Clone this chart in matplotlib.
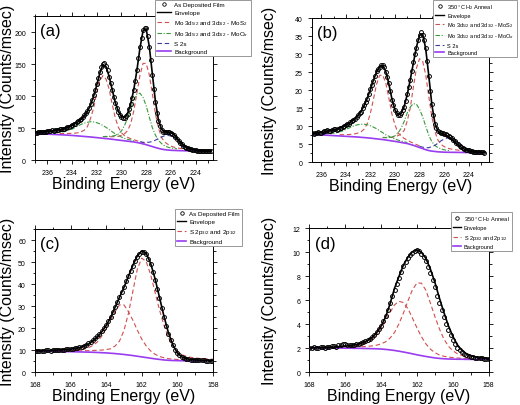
import numpy as np
import matplotlib
matplotlib.use("Agg")
import matplotlib.pyplot as plt
from matplotlib.lines import Line2D
from matplotlib.ticker import MultipleLocator

plt.rcParams['font.family'] = ['Liberation Sans', 'DejaVu Sans']
plt.rcParams['mathtext.fontset'] = 'custom'
plt.rcParams['mathtext.rm'] = 'Liberation Sans'

# ---------------- Mo 3d region, as deposited (a) ----------------
# measured points 237 -> 222.75 eV (0.25 eV step) plus the in-between scans
data_a = [42, 43, 43, 44, 45, 46, 46, 47, 48, 48, 50, 52, 55, 57, 61, 64, 70, 77, 87, 101,
          118, 137, 150, 147, 130, 109, 89, 75, 67, 66, 72, 87, 109, 141, 176, 203, 206, 177, 133, 90,
          61, 47, 43, 43, 42, 39, 33, 27, 22, 19, 17, 16, 15, 14.5, 14, 13.8, 13.5, 13.5]
data_a_mid = [42.5, 43, 43.5, 44.5, 45.5, 46.5, 46.5, 47.5, 48, 49, 51, 53.5, 56, 59, 62.5, 67,
              73, 81.5, 93.5, 109, 128, 145, 151, 140, 120, 99, 81.5, 70.5, 66, 68.5, 79, 97.5,
              124, 159, 191, 207, 194, 156, 111, 74, 53, 44.5, 43.5, 43, 41, 36, 30, 24.5, 20.5,
              18, 16.5, 15.5, 14.8, 14.2, 13.9, 13.6, 13.5]
env_a = [43, 43, 44, 44, 45, 45, 46, 47, 47, 48, 50, 52, 54, 57, 60, 64, 69, 76, 86, 100,
         117, 136, 149, 146, 131, 110, 90, 76, 68, 67, 73, 88, 110, 140, 175, 202, 205, 178, 135, 92,
         62, 48, 44, 44, 43, 40, 34, 28, 23, 20, 18, 16.5, 15.5, 15, 14.5, 14, 14, 13.9]
bg_a = [41, 41, 40.8, 40.6, 40.4, 40.2, 40, 39.8, 39.5, 39.3, 39, 38.7, 38.4, 38, 37.6, 37.2,
        36.8, 36.4, 36, 35.5, 35, 34.5, 34, 33.5, 33, 32.4, 31.8, 31.2, 30.6, 30, 29.4, 28.8,
        28.2, 27.4, 26.4, 25.2, 24, 22.5, 21, 19.5, 18.2, 17, 16.2, 15.6, 15.2, 15, 14.8, 14.6,
        14.5, 14.4, 14.3, 14.2, 14.1, 14, 14, 13.9, 13.9, 13.9]
mos2_a1 = [41.5, 41.4, 41.4, 41.5, 41.8, 42.0, 42.6, 44.2, 46.8, 52.4, 65.0, 81.5, 105.0, 123.5,
           132.0, 126.5, 111.0, 87.4, 65.8, 51.2, 42.6, 38.0, 35.4, 33.3, 31.7, 30.1, 28.7, 27.2, 25.8]
mos2_a2 = [36.6, 36.5, 36.3, 36.4, 36.7, 37.0, 38.6, 41.0, 46.0, 56.8, 76.8, 104.4, 132.4, 151.0,
           151.0, 133.5, 104.0, 72.0, 50.2, 35.0, 28.2, 24.6, 21.9, 20.1, 19.0, 18.2, 17.5, 17.0,
           16.6, 16.3, 16.0]
moo_a1 = [42.3, 42.6, 42.9, 43.9, 45.0, 46.7, 48.2, 51.0, 53.2, 55.9, 57.7, 59.0, 59.8, 59.5,
          58.3, 56.5, 54.0, 51.0, 47.6, 44.2, 40.8, 38.4, 35.9, 33.8, 32.3, 31.2, 30.2]
moo_a2 = [36.7, 36.8, 37.0, 37.4, 38.4, 40.6, 45.4, 54.0, 65.4, 80.3, 93.7, 103.1, 104.4, 97.7,
          85.0, 67.5, 50.6, 39.0, 30.7, 25.6, 22.2, 20.1, 18.9, 18.1, 17.5]
s2s_a = [28.4, 27.7, 27.7, 27.8, 29.0, 31.0, 33.6, 36.0, 38.0, 38.6, 37.5, 35.2, 32.1, 27.6,
         23.5, 21.1, 18.7, 17.0, 16.3]

# ---------------- Mo 3d region, 350 C H2 anneal (b) ----------------
data_b = [7.8, 8.1, 8.0, 8.3, 8.2, 8.6, 8.9, 8.8, 9.1, 9.0, 9.6, 9.8, 10.4, 10.7, 11.5, 12.0,
          13.2, 14.0, 16.0, 17.6, 20.4, 22.6, 25.2, 26.4, 27.0, 25.0, 22.0, 17.4, 14.6, 13.0,
          13.8, 15.3, 19.0, 22.8, 27.8, 31.8, 35.4, 35.4, 31.7, 23.8, 16.2, 10.6, 8.7, 8.1,
          7.9, 7.5, 6.9, 6.2, 5.4, 4.6, 4.0, 3.5, 3.3, 3.0, 2.9, 2.8, 2.8, 2.7]
data_b_mid = [8.0, 7.9, 8.2, 8.1, 8.5, 8.7, 8.7, 9.0, 9.2, 9.3, 9.6, 10.1, 10.5, 11.1, 11.8, 12.5,
              13.6, 15.0, 16.8, 19.0, 21.5, 24.0, 26.0, 27.0, 26.3, 23.6, 19.8, 15.8, 13.6, 13.2,
              14.4, 17.0, 20.8, 25.3, 30.0, 33.8, 36.0, 34.0, 28.0, 19.8, 13.0, 9.4, 8.3, 8.0,
              7.8, 7.2, 6.6, 5.8, 5.0, 4.3, 3.7, 3.4, 3.1, 2.95, 2.85, 2.8, 2.75]
env_b = [8.0, 8.0, 8.1, 8.2, 8.3, 8.4, 8.6, 8.8, 9.0, 9.2, 9.5, 9.9, 10.3, 10.8, 11.4, 12.1,
         13.0, 14.2, 15.8, 17.8, 20.2, 22.8, 25.0, 26.5, 26.8, 25.2, 21.8, 17.6, 14.5, 13.2,
         13.6, 15.5, 18.8, 23.0, 27.6, 32.0, 35.2, 35.6, 31.5, 24.0, 16.0, 10.8, 8.6, 8.0,
         7.7, 7.3, 6.7, 6.0, 5.2, 4.5, 3.9, 3.5, 3.2, 3.0, 2.9, 2.85, 2.8, 2.75]
bg_b = [7.8, 7.75, 7.7, 7.65, 7.6, 7.55, 7.5, 7.45, 7.4, 7.35, 7.3, 7.25, 7.2, 7.15, 7.1, 7.05,
        7.0, 6.92, 6.85, 6.78, 6.7, 6.6, 6.5, 6.4, 6.3, 6.18, 6.05, 5.92, 5.8, 5.65, 5.5, 5.35,
        5.2, 4.95, 4.7, 4.4, 4.1, 3.8, 3.5, 3.25, 3.1, 3.0, 2.9, 2.85, 2.8, 2.78, 2.77, 2.76,
        2.75, 2.74, 2.72, 2.71, 2.7, 2.69, 2.68, 2.67, 2.66, 2.65]
mos2_b1 = [7.66, 7.65, 7.65, 7.7, 7.78, 7.9, 8.13, 8.47, 9.22, 10.78, 13.6, 17.5, 21.6, 24.1,
           24.2, 22.0, 17.85, 13.4, 10.35, 8.2, 7.23, 6.62, 6.15, 5.68, 5.3, 4.91, 4.54]
mos2_b2 = [6.9, 6.88, 6.88, 6.92, 7.1, 7.4, 7.9, 8.85, 11.45, 15.2, 20.95, 26.15, 28.7, 28.05,
           24.25, 18.25, 12.6, 8.5, 6.15, 4.95, 4.35, 3.91, 3.72, 3.56, 3.43, 3.32, 3.22, 3.16, 3.1]
moo_b1 = [7.88, 7.89, 7.91, 7.95, 8.07, 8.2, 8.48, 8.69, 9.12, 9.48, 9.91, 10.2, 10.44, 10.55,
          10.55, 10.41, 10.14, 9.75, 9.31, 8.73, 8.22, 7.62, 7.23, 6.77, 6.47, 6.15, 5.91, 5.69, 5.48]
moo_b2 = [6.82, 6.82, 6.85, 7.02, 7.33, 8.13, 9.4, 11.35, 13.7, 15.35, 16.26, 16.08, 14.7, 12.65,
          10.0, 7.5, 5.7, 4.65, 4.08, 3.7, 3.46, 3.31, 3.22]
s2s_b = [4.4, 4.2, 4.02, 4.05, 4.34, 4.72, 5.3, 5.97, 6.44, 6.74, 6.77, 6.48, 5.95, 5.26, 4.56,
         4.03, 3.54, 3.25, 3.1]

# ---------------- S 2p region (c, d), 168 -> 158 eV ----------------
data_c = [9.6, 9.8, 9.7, 10.0, 9.9, 10.2, 10.1, 10.4, 10.6, 11.0, 11.4, 12.1, 13.2, 14.6, 16.5,
          18.8, 21.6, 25.3, 29.8, 34.3, 38.8, 43.6, 48.4, 52.4, 54.6, 53.6, 49.0, 42.0, 33.5,
          25.0, 17.6, 12.3, 8.7, 7.0, 6.2, 5.8, 5.6, 5.4, 5.4, 5.3, 5.2]
data_c_mid = [9.7, 9.6, 9.9, 9.8, 10.1, 10.0, 10.3, 10.5, 10.8, 11.2, 11.7, 12.6, 13.9, 15.5,
              17.6, 20.1, 23.4, 27.5, 32.0, 36.6, 41.2, 46.0, 50.6, 53.8, 54.6, 51.6, 45.6, 37.8,
              29.2, 21.2, 14.7, 10.3, 7.7, 6.5, 6.0, 5.7, 5.5, 5.4, 5.3, 5.3]
env_c = [9.7, 9.7, 9.8, 9.9, 10.0, 10.1, 10.2, 10.3, 10.5, 10.8, 11.2, 11.8, 12.8, 14.2, 16.0,
         18.3, 21.2, 24.8, 29.5, 34.0, 38.5, 43.5, 48.5, 52.8, 55.0, 54.0, 49.5, 42.5, 34.0,
         25.5, 18.0, 12.5, 8.8, 7.0, 6.2, 5.8, 5.6, 5.5, 5.4, 5.35, 5.3]
bg_c = [9.5, 9.5, 9.5, 9.5, 9.5, 9.45, 9.4, 9.4, 9.35, 9.3, 9.25, 9.2, 9.15, 9.1, 9.0, 8.9, 8.8,
        8.65, 8.5, 8.3, 8.1, 7.85, 7.6, 7.3, 7.0, 6.7, 6.4, 6.1, 5.85, 5.6, 5.45, 5.35, 5.3,
        5.25, 5.25, 5.2, 5.2, 5.2, 5.2, 5.2, 5.2]
s2p3_c = [9.75, 9.75, 9.79, 9.8, 9.83, 9.91, 10.0, 10.07, 10.33, 10.65, 11.9, 14.15, 18.9, 26.55,
          36.6, 46.7, 51.8, 50.3, 44.4, 36.3, 28.35, 21.35, 15.8, 12.0, 9.7, 8.05, 7.25, 6.8,
          6.55, 6.3, 6.2, 6.05, 5.96]
s2p1_c = [9.85, 9.85, 9.84, 9.9, 9.95, 10.03, 10.17, 10.48, 11.1, 12.2, 13.7, 16.4, 19.8, 23.75,
          27.5, 30.6, 30.6, 27.55, 23.7, 19.2, 15.1, 12.0, 9.7, 8.2, 7.2, 6.6, 6.2, 5.97, 5.83,
          5.71, 5.65, 5.55, 5.51]

data_d = [2.0, 2.1, 2.05, 2.15, 2.1, 2.2, 2.15, 2.3, 2.35, 2.25, 2.3, 2.4, 2.5, 2.7, 2.95, 3.35,
          3.9, 4.7, 5.8, 6.9, 7.9, 8.9, 9.5, 9.95, 10.2, 9.9, 9.3, 8.3, 7.1, 5.8, 4.6, 3.5, 2.7,
          2.05, 1.7, 1.45, 1.3, 1.22, 1.18, 1.15, 1.1]
data_d_mid = [2.05, 2.0, 2.1, 2.05, 2.15, 2.2, 2.25, 2.4, 2.3, 2.25, 2.35, 2.45, 2.6, 2.8, 3.1,
              3.6, 4.3, 5.2, 6.4, 7.4, 8.4, 9.2, 9.8, 10.15, 10.1, 9.6, 8.8, 7.7, 6.4, 5.2, 4.0,
              3.1, 2.35, 1.85, 1.55, 1.38, 1.26, 1.2, 1.16, 1.12]
env_d = [2.05, 2.05, 2.06, 2.07, 2.08, 2.1, 2.12, 2.15, 2.18, 2.22, 2.28, 2.36, 2.48, 2.65, 2.9,
         3.3, 3.85, 4.6, 5.7, 7.0, 8.0, 8.95, 9.6, 10.05, 10.2, 10.0, 9.5, 8.6, 7.5, 6.2, 5.0,
         3.9, 3.0, 2.3, 1.85, 1.55, 1.38, 1.28, 1.22, 1.18, 1.15]
bg_d = [2.02, 2.02, 2.02, 2.02, 2.02, 2.02, 2.02, 2.02, 2.01, 2.01, 2.0, 2.0, 1.99, 1.98, 1.97,
        1.96, 1.94, 1.91, 1.87, 1.82, 1.76, 1.69, 1.62, 1.54, 1.46, 1.39, 1.32, 1.26, 1.2, 1.16,
        1.13, 1.11, 1.1, 1.09, 1.09, 1.08, 1.08, 1.08, 1.08, 1.08, 1.08]
s2p3_d = [2.12, 2.13, 2.14, 2.17, 2.2, 2.26, 2.37, 2.54, 2.85, 3.32, 4.05, 4.95, 5.95, 6.88, 7.44,
          7.43, 6.84, 5.77, 4.65, 3.63, 2.78, 2.18, 1.8, 1.55, 1.41, 1.32, 1.28, 1.24, 1.22, 1.2, 1.19]
s2p1_d = [2.09, 2.1, 2.1, 2.12, 2.12, 2.14, 2.17, 2.22, 2.31, 2.46, 2.71, 3.09, 3.64, 4.28, 4.98,
          5.62, 5.92, 5.81, 5.3, 4.52, 3.71, 2.97, 2.37, 1.93, 1.64, 1.45, 1.34, 1.27, 1.23, 1.19,
          1.18, 1.16, 1.15]

RED = "#cf5050"
GREEN = "#3a9a3a"
BLUE = "#3a3aa0"
PURPLE = "#9a3cf0"
STYLE = {
    "mos2": dict(color=RED, ls=(0, (4, 2.5)), lw=0.8),
    "moo": dict(color=GREEN, ls=(0, (4, 1.5, 1, 1.5)), lw=0.8),
    "s2s": dict(color=BLUE, ls=(0, (4, 2.5)), lw=0.8),
    "s2p": dict(color=RED, ls=(0, (4, 2.5)), lw=0.8),
}
MARK = dict(ls='none', marker='o', ms=2.8, mfc='none', mec='black', mew=0.7)


def grid(start, stop, vals):
    return np.linspace(start, stop, len(vals))


def panel(ax, x0, x1, data, data_mid, env, bg, comps, xlim, ylim, ymaj, ymin, tag):
    be = grid(x0, x1, data)
    for (s, e, vals, key) in comps:
        ax.plot(grid(s, e, vals), vals, **STYLE[key], zorder=2)
    ax.plot(be, bg, color=PURPLE, lw=1.2, zorder=3)
    ax.plot(be, data, **MARK, zorder=4)
    ax.plot(grid(x0 - 0.125, x1 + 0.125, data_mid), data_mid, **MARK, zorder=4)
    ax.plot(be, env, color='black', lw=1.2, zorder=5)
    ax.set_xlim(*xlim)
    ax.set_ylim(*ylim)
    ax.xaxis.set_major_locator(MultipleLocator(2))
    ax.xaxis.set_minor_locator(MultipleLocator(1))
    ax.yaxis.set_major_locator(MultipleLocator(ymaj))
    ax.yaxis.set_minor_locator(MultipleLocator(ymin))
    ax.tick_params(which='both', labelsize=5, width=0.6, direction='out')
    ax.tick_params(which='major', length=3)
    ax.tick_params(which='minor', length=1.8)
    ax.tick_params(axis='both', which='both', top=True, right=True)
    for sp in ax.spines.values():
        sp.set_linewidth(0.7)
    ax.set_xlabel('Binding Energy (eV)', fontsize=11.5, labelpad=0)
    ax.set_ylabel('Intensity (Counts/msec)', fontsize=11.5)
    ax.text(0.03, 0.95, tag, transform=ax.transAxes, fontsize=12, va='top', ha='left')


def handles(first, comp_labels):
    h = [Line2D([], [], ls='none', marker='o', ms=2.5, mfc='none', mec='black', mew=0.6),
         Line2D([], [], color='black', lw=1.0)]
    labels = [first, 'Envelope']
    for key, lab in comp_labels:
        h.append(Line2D([], [], **STYLE[key]))
        labels.append(lab)
    h.append(Line2D([], [], color=PURPLE, lw=1.2))
    labels.append('Background')
    return h, labels


fig = plt.figure(figsize=(5.2, 4.06), dpi=100)
ax_a = fig.add_axes([0.0673, 0.6034, 0.342, 0.3547])
ax_b = fig.add_axes([0.600, 0.5978, 0.3404, 0.3554])
ax_c = fig.add_axes([0.0673, 0.0805, 0.342, 0.353])
ax_d = fig.add_axes([0.5948, 0.0805, 0.345, 0.3547])

panel(ax_a, 237, 222.75, data_a, data_a_mid, env_a, bg_a,
      [(235.0, 228.0, mos2_a1, "mos2"), (231.5, 224.0, mos2_a2, "mos2"),
       (235.5, 229.0, moo_a1, "moo"), (231.5, 225.5, moo_a2, "moo"),
       (228.5, 224.0, s2s_a, "s2s")],
      (237, 222.6), (0, 225), 50, 25, '(a)')
panel(ax_b, 237, 222.75, data_b, data_b_mid, env_b, bg_b,
      [(234.5, 228.0, mos2_b1, "mos2"), (231.0, 224.0, mos2_b2, "mos2"),
       (236.0, 229.0, moo_b1, "moo"), (231.0, 225.5, moo_b2, "moo"),
       (228.0, 223.5, s2s_b, "s2s")],
      (236.75, 222.35), (0, 40), 5, 2.5, '(b)')
panel(ax_c, 168, 158, data_c, data_c_mid, env_c, bg_c,
      [(166.0, 158.0, s2p3_c, "s2p"), (167.0, 159.0, s2p1_c, "s2p")],
      (168, 158), (0, 65), 10, 5, '(c)')
panel(ax_d, 168, 158, data_d, data_d_mid, env_d, bg_d,
      [(165.5, 158.0, s2p3_d, "s2p"), (167.0, 159.0, s2p1_d, "s2p")],
      (168, 158), (0, 12), 2, 1, '(d)')

ax_a.yaxis.set_label_coords(-0.11, 0.5)
ax_c.yaxis.set_label_coords(-0.11, 0.5)
ax_b.yaxis.set_label_coords(-0.20, 0.5)
ax_d.yaxis.set_label_coords(-0.18, 0.5)

mo_labels = [("mos2", r'Mo 3d$_{5/2}$ and 3d$_{3/2}$ - MoS$_2$'),
             ("moo", r'Mo 3d$_{5/2}$ and 3d$_{3/2}$ - MoO$_x$'),
             ("s2s", 'S 2s')]
s_labels = [("s2p", r'S 2p$_{3/2}$ and 2p$_{1/2}$')]
leg_kw = dict(loc='upper left', frameon=True, fancybox=False, framealpha=1,
              edgecolor='#888888', borderpad=0.35, labelspacing=0.4,
              handletextpad=0.5, borderaxespad=0)

for ax, first, labs, anchor, fs, hl in [
        (ax_a, 'As Deposited Film', mo_labels, (0.298, 0.998), 4.5, 2.2),
        (ax_b, u'350 \u00b0C H$_2$ Anneal', mo_labels, (0.833, 0.998), 4.1, 1.6),
        (ax_c, 'As Deposited Film', s_labels, (0.337, 0.483), 4.5, 1.4),
        (ax_d, u'350 \u00b0C H$_2$ Anneal', s_labels, (0.868, 0.475), 4.1, 1.3)]:
    h, l = handles(first, labs)
    leg = fig.legend(h, l, bbox_to_anchor=anchor, fontsize=fs, handlelength=hl, **leg_kw)
    leg.get_frame().set_linewidth(0.6)

fig.savefig('out.png', dpi=100)
